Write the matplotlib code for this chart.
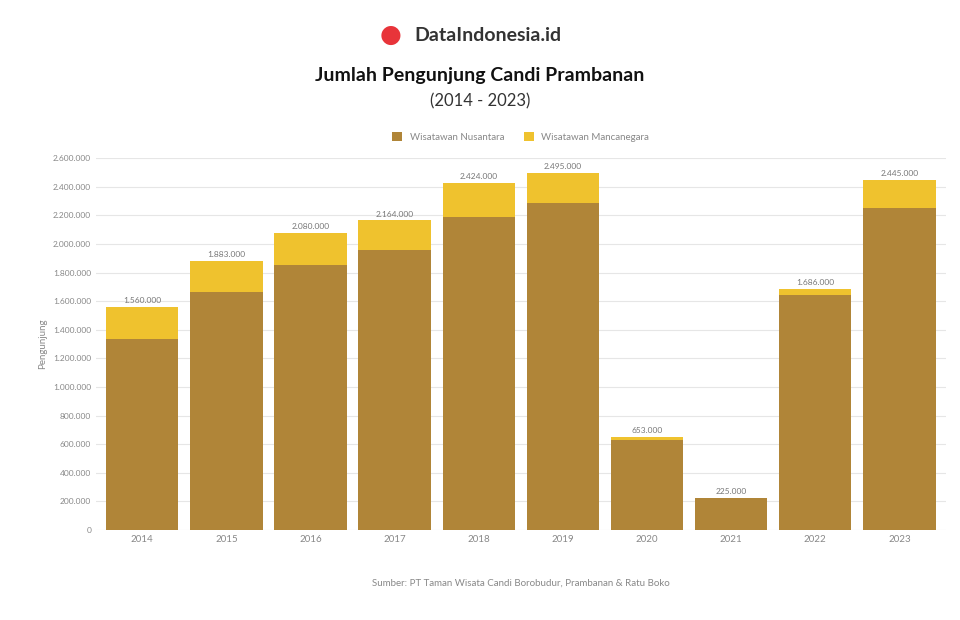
import matplotlib
matplotlib.use("Agg")
import matplotlib.pyplot as plt

years = ["2014","2015","2016","2017","2018","2019","2020","2021","2022","2023"]
domestic = [1335000,1665000,1855000,1960000,2190000,2284000,633000,222000,1644000,2249000]
foreign = [225000,218000,225000,204000,234000,211000,20000,3000,42000,196000]

plt.rcParams['font.family'] = ['Lato', 'DejaVu Sans']
fig = plt.figure(figsize=(9.6,6.2), dpi=100)
ax = fig.add_axes([0.1, 0.145, 0.885, 0.60])
x = range(len(years))
ax.bar(x, domestic, width=0.86, color='#b08538', label='Wisatawan Nusantara', zorder=3)
ax.bar(x, foreign, width=0.86, bottom=domestic, color='#efc22e', label='Wisatawan Mancanegara', zorder=3)
for i in x:
    t = domestic[i]+foreign[i]
    ax.text(i, t+20000, f"{t:,}".replace(",", "."), ha='center', va='bottom', fontsize=6, color='#777')
ax.set_ylim(0, 2600000)
ax.set_xlim(-0.55, 9.55)
ax.set_yticks(range(0, 2600001, 200000))
ax.set_yticklabels([f"{v:,}".replace(",", ".") for v in range(0, 2600001, 200000)], fontsize=6, color='#888')
ax.set_xticks(list(x))
ax.set_xticklabels(years, fontsize=7, color='#888')
ax.grid(axis='y', color='#e6e6e6', zorder=0)
for s in ax.spines.values():
    s.set_visible(False)
ax.tick_params(length=0)
ax.set_ylabel('Pengunjung', fontsize=7, color='#888')
ax.set_xlabel('Sumber: PT Taman Wisata Candi Borobudur, Prambanan & Ratu Boko', fontsize=7, color='#888', labelpad=25)
ax.legend(loc='lower center', bbox_to_anchor=(0.5, 1.02), ncol=2, frameon=False, fontsize=7, labelcolor='#888', handlelength=1, handleheight=1)

fig.text(0.5, 0.87, 'Jumlah Pengunjung Candi Prambanan', ha='center', fontsize=14, fontweight='bold', color='#111')
fig.text(0.5, 0.828, '(2014 - 2023)', ha='center', fontsize=12, color='#333')
fig.text(0.432, 0.943, 'DataIndonesia.id', ha='left', va='center', fontsize=14, fontweight='bold', color='#333')
fig.text(0.407, 0.943, '\u25CF', ha='center', va='center', fontsize=18, color='#e8343a', family='DejaVu Sans')
fig.savefig('out.png', dpi=100, facecolor='white')
